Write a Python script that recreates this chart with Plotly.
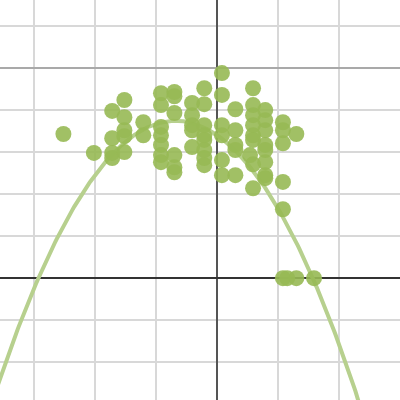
import numpy as np
import plotly.graph_objects as go

# scatter points
px = [-2.52, -2.02, -1.72, -1.72, -1.72, -1.72, -1.52, -1.52, -1.52, -1.52, -1.52,
      -1.21, -1.21, -0.92, -0.92, -0.92, -0.92, -0.92, -0.92, -0.92,
      -0.70, -0.70, -0.70, -0.70, -0.70, -0.70,
      -0.41, -0.41, -0.41, -0.41, -0.41,
      -0.21, -0.21, -0.21, -0.21, -0.21, -0.21, -0.21, -0.21,
      0.08, 0.08, 0.08, 0.08, 0.08, 0.08,
      0.30, 0.30, 0.30, 0.30, 0.30,
      0.59, 0.59, 0.59, 0.59, 0.59, 0.59, 0.59, 0.59,
      0.79, 0.79, 0.79, 0.79, 0.79, 0.79, 0.79, 0.79,
      1.08, 1.08, 1.08, 1.08, 1.08, 1.30, 1.08, 1.30, 1.59, 1.15, 0.54]
py = [3.43, 2.98, 3.98, 3.33, 2.98, 2.86, 4.24, 3.83, 3.52, 3.38, 3.00,
      3.71, 3.40, 4.40, 4.12, 3.60, 3.40, 3.17, 2.93, 2.76,
      4.43, 4.33, 3.93, 2.93, 2.64, 2.52,
      4.17, 3.88, 3.64, 3.52, 3.12,
      4.52, 4.14, 3.64, 3.40, 3.29, 3.05, 2.86, 2.69,
      4.88, 4.36, 3.64, 3.40, 2.81, 2.45,
      4.02, 3.52, 3.17, 3.05, 2.45,
      4.52, 4.12, 3.88, 3.64, 3.40, 3.29, 2.71, 2.14,
      4.00, 3.76, 3.52, 3.17, 3.05, 2.76, 2.45, 2.38,
      3.71, 3.52, 3.21, 2.29, 1.64, 3.43, 0, 0, 0, 0, 2.93]

# fitted parabola y = -a (x - r1)(x - r2)
a = 0.74
r1, r2 = -2.93, 1.57

xs = np.linspace(-3.6, 3.0, 300)
ys = -a * (xs - r1) * (xs - r2)

fig = go.Figure()
fig.add_trace(go.Scatter(x=xs, y=ys, mode='lines',
                         line=dict(color='#b7d08e', width=4), hoverinfo='skip'))
fig.add_trace(go.Scatter(x=px, y=py, mode='markers',
                         marker=dict(size=16, color='#97b954', opacity=0.9, line=dict(width=0))))

# darker major gridline
fig.add_shape(type='line', x0=-3.56, x1=3.0, y0=5, y1=5,
              line=dict(color='#9a9a9a', width=1.5), layer='between')

fig.update_layout(width=400, height=400, margin=dict(l=0, r=0, t=0, b=0, pad=0),
                  plot_bgcolor='white', paper_bgcolor='white', showlegend=False)
fig.update_xaxes(range=[-3.56, 3.0], dtick=1, gridcolor='#d8d8d8', gridwidth=1.5,
                 zeroline=True, zerolinecolor='#555', zerolinewidth=1.5,
                 showticklabels=False, ticks='')
fig.update_yaxes(range=[-2.9, 6.62], dtick=1, gridcolor='#d8d8d8', gridwidth=1.5,
                 zeroline=True, zerolinecolor='#333', zerolinewidth=1.5,
                 showticklabels=False, ticks='')
fig.write_html("out.html", config={'displayModeBar': False},
               post_script="document.body.style.margin='0';")
